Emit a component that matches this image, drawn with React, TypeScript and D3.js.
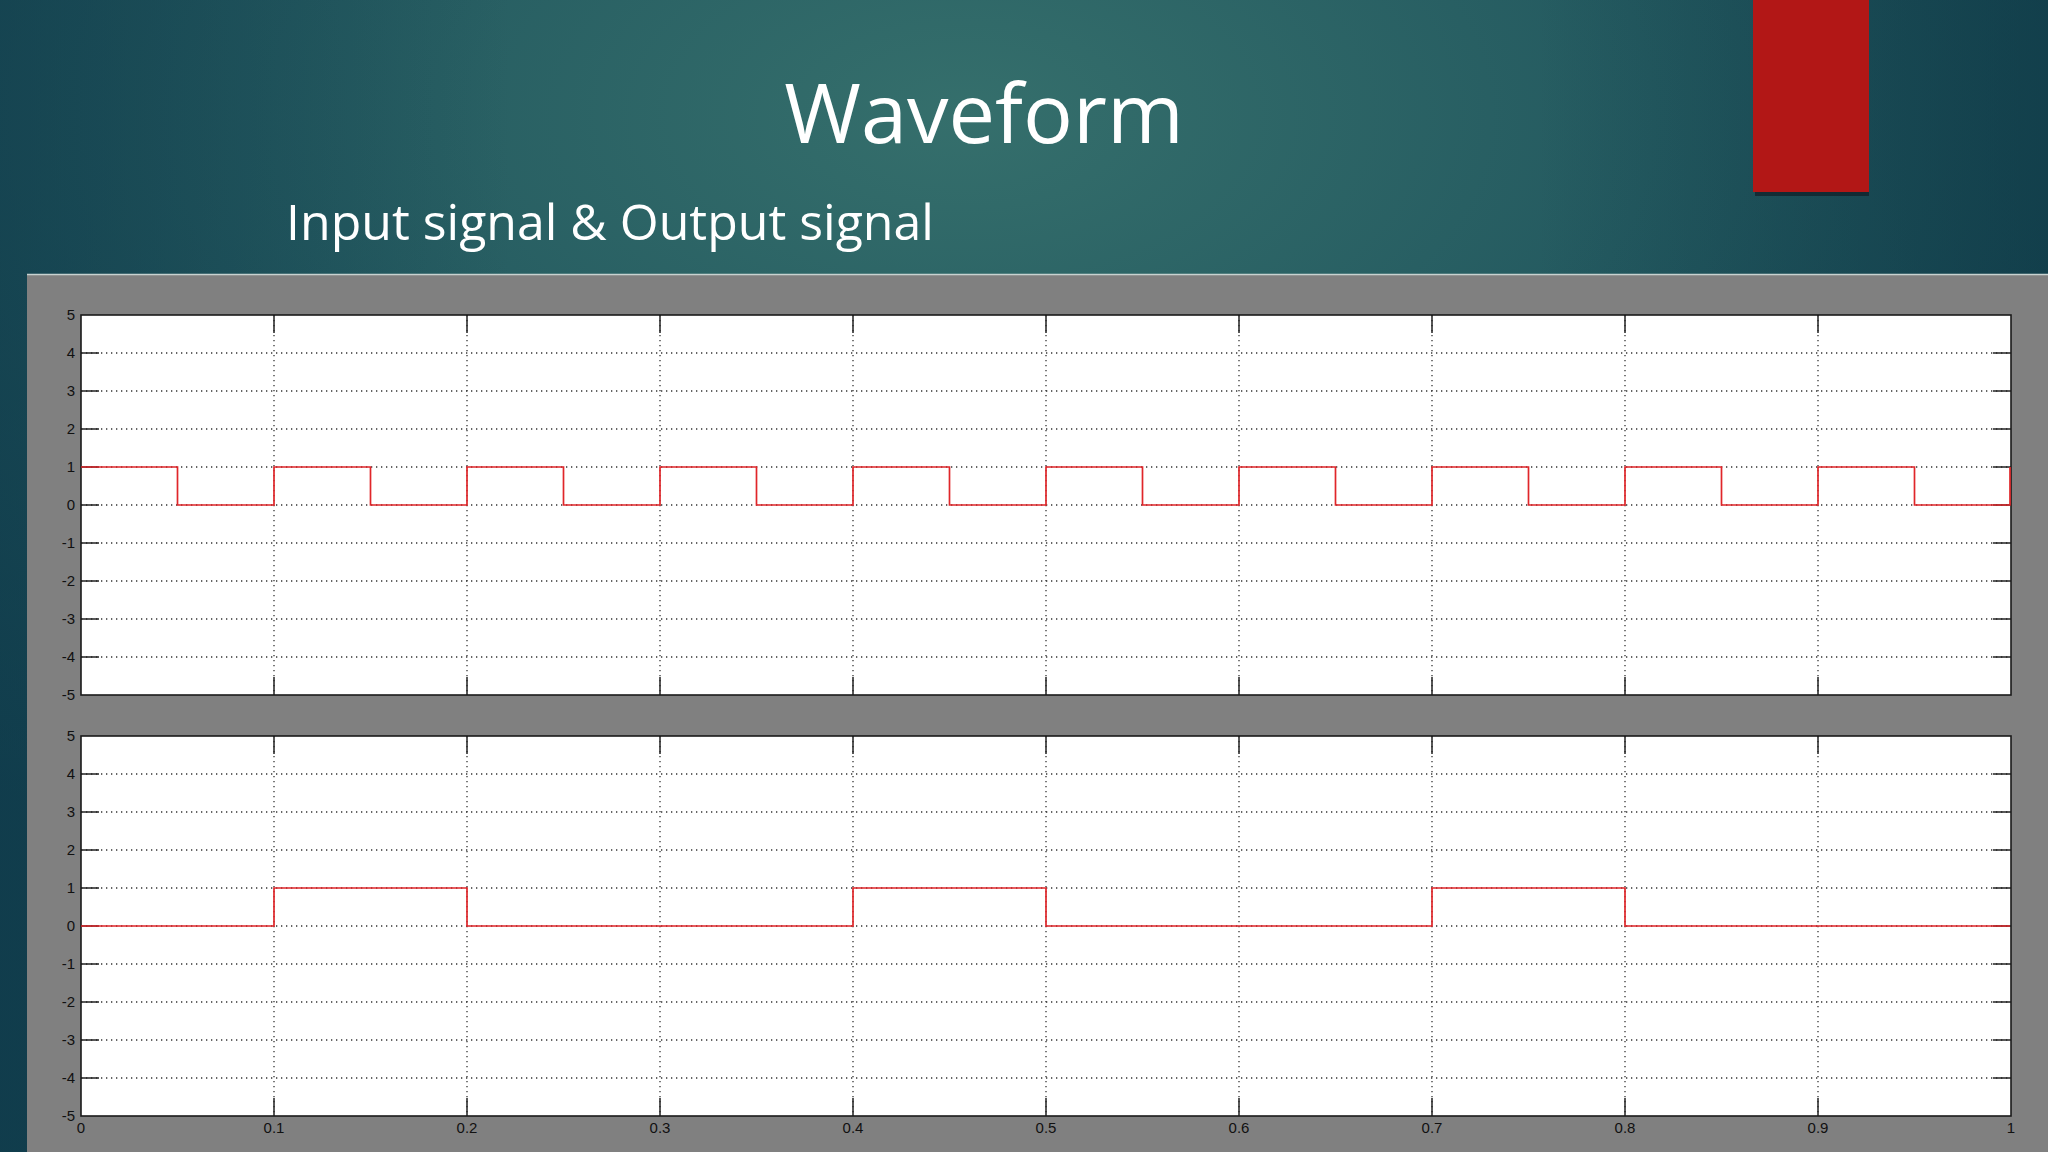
import React, { useEffect } from "react";
import * as d3 from "d3";

// time axis and amplitude axis
const timeTicks = [0, 0.1, 0.2, 0.3, 0.4, 0.5, 0.6, 0.7, 0.8, 0.9, 1];
const timeLabels = ["0", "0.1", "0.2", "0.3", "0.4", "0.5", "0.6", "0.7", "0.8", "0.9", "1"];
const ampTicks = [5, 4, 3, 2, 1, 0, -1, -2, -3, -4, -5];

// input signal (square wave), sample and hold steps
const inputTime = [0, 0.05, 0.1, 0.15, 0.2, 0.25, 0.3, 0.35, 0.4, 0.45, 0.5, 0.55, 0.6, 0.65, 0.7, 0.75, 0.8, 0.85, 0.9, 0.95, 1];
const inputValue = [1, 0, 1, 0, 1, 0, 1, 0, 1, 0, 1, 0, 1, 0, 1, 0, 1, 0, 1, 0, 1];

// output signal
const outputTime = [0, 0.1, 0.2, 0.4, 0.5, 0.7, 0.8, 1];
const outputValue = [0, 1, 0, 1, 0, 1, 0, 0];

const W = 2048;
const H = 1152;

const plotLeft = 81;
const plotRight = 2011;
const plotH = 380;
const panelTops = [315, 736];

const x = d3.scaleLinear().domain([0, 1]).range([plotLeft, plotRight]);

function Scope({ top, times, values, showX }: { top: number; times: number[]; values: number[]; showX: boolean }) {
  const y = d3.scaleLinear().domain([-5, 5]).range([top + plotH, top]);
  const pts: [number, number][] = times.map((t, i) => [t, values[i]]);
  const line = d3
    .line<[number, number]>()
    .x((d) => Math.min(x(d[0]), plotRight - 1))
    .y((d) => y(d[1]))
    .curve(d3.curveStepAfter);
  const tickLen = 18;
  const inner = timeTicks.slice(1, -1);
  const innerY = ampTicks.slice(1, -1);

  return (
    <g>
      <rect x={plotLeft} y={top} width={plotRight - plotLeft} height={plotH} fill="#ffffff" />
      {/* grid */}
      {inner.map((t) => (
        <line key={"gx" + t} x1={x(t)} x2={x(t)} y1={top} y2={top + plotH} stroke="#333" strokeWidth={1.3} strokeDasharray="1.3 3.7" />
      ))}
      {innerY.map((v) => (
        <line key={"gy" + v} x1={plotLeft} x2={plotRight} y1={y(v)} y2={y(v)} stroke="#333" strokeWidth={1.3} strokeDasharray="1.3 3.7" />
      ))}
      {/* ticks */}
      {inner.map((t) => (
        <g key={"tx" + t}>
          <line x1={x(t)} x2={x(t)} y1={top} y2={top + tickLen} stroke="#222" strokeWidth={1.5} />
          <line x1={x(t)} x2={x(t)} y1={top + plotH} y2={top + plotH - tickLen} stroke="#222" strokeWidth={1.5} />
        </g>
      ))}
      {innerY.map((v) => (
        <g key={"ty" + v}>
          <line x1={plotLeft} x2={plotLeft + tickLen} y1={y(v)} y2={y(v)} stroke="#222" strokeWidth={1.5} />
          <line x1={plotRight} x2={plotRight - tickLen} y1={y(v)} y2={y(v)} stroke="#222" strokeWidth={1.5} />
        </g>
      ))}
      <rect x={plotLeft} y={top} width={plotRight - plotLeft} height={plotH} fill="none" stroke="#1a1a1a" strokeWidth={1.6} />
      {/* signal */}
      <path d={line(pts) || ""} fill="none" stroke="#e0262a" strokeWidth={1.7} />
      {/* labels */}
      {ampTicks.map((v) => (
        <text key={"ly" + v} x={plotLeft - 6} y={y(v)} dy="0.36em" textAnchor="end" fontSize={15} fill="#111" fontFamily="Liberation Sans, Arial, sans-serif">
          {v < 0 ? "-" + Math.abs(v) : String(v)}
        </text>
      ))}
      {showX &&
        timeTicks.map((t, i) => (
          <text key={"lx" + t} x={x(t)} y={top + plotH + 17} textAnchor="middle" fontSize={15} fill="#111" fontFamily="Liberation Sans, Arial, sans-serif">
            {timeLabels[i]}
          </text>
        ))}
    </g>
  );
}

export default function App() {
  useEffect(() => {
    document.body.style.margin = "0";
  }, []);

  return (
    <svg width={W} height={H} style={{ display: "block" }} viewBox={`0 0 ${W} ${H}`}>
      <defs>
        <radialGradient id="bg" cx="0.47" cy="0.1" r="0.75" fx="0.47" fy="0.1">
          <stop offset="0" stopColor="#356f6c" />
          <stop offset="0.45" stopColor="#245a60" />
          <stop offset="1" stopColor="#12404f" />
        </radialGradient>
        <linearGradient id="shade" x1="0" x2="1" y1="0" y2="0">
          <stop offset="0" stopColor="#0f3a4a" stopOpacity={0.55} />
          <stop offset="0.25" stopColor="#0f3a4a" stopOpacity={0} />
          <stop offset="0.75" stopColor="#0b3442" stopOpacity={0} />
          <stop offset="1" stopColor="#0b3442" stopOpacity={0.55} />
        </linearGradient>
      </defs>
      <rect x={0} y={0} width={W} height={H} fill="url(#bg)" />
      <rect x={0} y={0} width={W} height={H} fill="url(#shade)" />

      {/* red accent block */}
      <rect x={1755} y={4} width={114} height={192} fill="#101e26" opacity={0.7} />
      <rect x={1753} y={0} width={116} height={192} fill="#b21716" />

      <text x={984} y={143} textAnchor="middle" fontSize={83} fill="#ffffff" fontFamily="Open Sans, Noto Sans, sans-serif">
        Waveform
      </text>
      <text x={286} y={240} fontSize={50} fill="#ffffff" fontFamily="Open Sans, Noto Sans, sans-serif">
        Input signal &amp; Output signal
      </text>

      {/* scope panel */}
      <rect x={27} y={274} width={W - 27} height={H - 274} fill="#808080" />
      <line x1={27} x2={W} y1={274.5} y2={274.5} stroke="#c8d2d0" strokeWidth={1.5} />

      <Scope top={panelTops[0]} times={inputTime} values={inputValue} showX={false} />
      <Scope top={panelTops[1]} times={outputTime} values={outputValue} showX={true} />
    </svg>
  );
}
